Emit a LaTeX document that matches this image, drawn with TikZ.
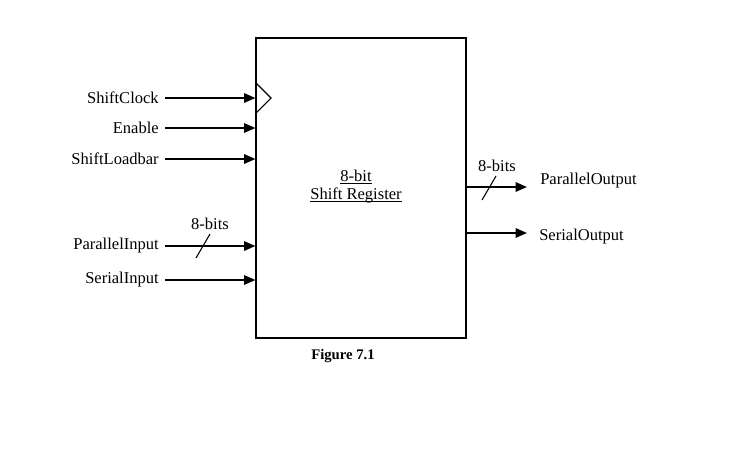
\documentclass[tikz,border=0pt]{standalone}
\usepackage{fontspec}
\setmainfont{Liberation Serif}
\usetikzlibrary{arrows.meta,positioning}

\begin{document}
\begin{tikzpicture}[x=0.75pt,y=-0.75pt,>={Triangle[length=8.5pt,width=7pt]},font=\fontsize{12.4}{13.5}\selectfont]
\tikzset{sig/.style={->,line width=1.5pt},
	inlbl/.style={anchor=east,inner sep=4.5pt},
	outlbl/.style={anchor=west,inner sep=0pt},
	slash/.style={line width=0.8pt}}
\useasboundingbox (0,0) rectangle (748,465);

% the register
\node[draw,line width=0.8pt,minimum width=157.5pt,minimum height=225pt,inner sep=0pt] (sr) at (361,188) {};
\node[align=center] (title) at (356,186) {\underbar{8-bit}\\\underbar{Shift Register}};
\draw[line width=0.8pt] (256,83) -- (271,98) -- (256,113);

% inputs
\node[inlbl]	(clk)	at (165,98)	{ShiftClock};
\node[inlbl]	(en)	at (165,128)	{Enable};
\node[inlbl]	(ld)	at (165,159)	{ShiftLoadbar};
\node[inlbl]	(pin)	at (165,246)	{ParallelInput};
\node[inlbl]	(sin)	at (165,280)	{SerialInput};

\draw[sig] (clk.east) -- (clk.east -| sr.west);
\draw[sig] (en.east) -- (en.east -| sr.west);
\draw[sig] (ld.east) -- (ld.east -| sr.west);
\draw[sig] (pin.east) -- (pin.east -| sr.west);
\draw[sig] (sin.east) -- (sin.east -| sr.west);

\coordinate (pinbus) at (203,246);
\draw[slash] ([shift={(-7,12)}]pinbus) -- ([shift={(7,-12)}]pinbus);
\node (pinw) at (210,224) {8-bits};

% outputs
\coordinate (pend) at (527,187);
\coordinate (send) at (527,233);
\node[outlbl]	(pout)	at (540,181)	{ParallelOutput};
\node[outlbl]	(sout)	at (539,237)	{SerialOutput};

\draw[sig] (sr.east |- pend) -- (pend);
\draw[sig] (sr.east |- send) -- (send);

\coordinate (poutbus) at (489,188);
\draw[slash] ([shift={(-7,12)}]poutbus) -- ([shift={(7,-12)}]poutbus);
\node (poutw) at (497,166) {8-bits};

% caption
\node[font=\fontsize{11}{13}\selectfont\bfseries] (fig) at (343,356) {Figure 7.1};
\end{tikzpicture}
\end{document}
